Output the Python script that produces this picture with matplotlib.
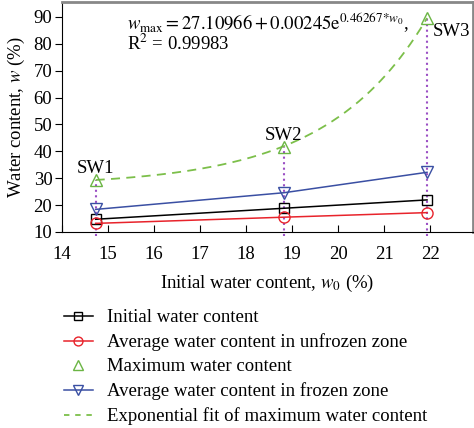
import matplotlib.pyplot as plt
import numpy as np

plt.rcParams['font.family'] = ['Liberation Serif', 'DejaVu Serif']
plt.rcParams['mathtext.fontset'] = 'stix'

w0 = [14.73, 18.82, 21.93]
initial = [14.73, 18.82, 21.93]
unfrozen = [13.2, 15.5, 17.2]
maximum = [29.4, 41.6, 89.5]
frozen = [18.4, 24.6, 32.2]
labels = ['SW1', 'SW2', 'SW3']

# fit parameters written on the chart
a, b, c = 27.10966, 0.00245, 0.46267

fig = plt.figure(figsize=(4.74, 4.28), dpi=100)
ax = fig.add_axes([0.131, 0.458, 0.867, 0.537])

for x, m in zip(w0, maximum):
    ax.plot([x, x], [8.5, m], ':', color='#9b4fc4', lw=1.5, clip_on=False, zorder=1)

xf = np.linspace(w0[0], w0[-1], 200)
ax.plot(xf, a + b * np.exp(c * xf), '--', color='#7cbf4a', lw=1.3, dashes=(5, 3.5), zorder=2)

ax.plot(w0, initial, '-s', color='black', mfc='none', ms=7, lw=1.1, label='Initial water content', zorder=3)
ax.plot(w0, unfrozen, '-o', color='#e8232b', mfc='none', ms=8, lw=1.1,
        label='Average water content in unfrozen zone', zorder=3)
ax.plot(w0, maximum, '^', color='#6bb544', mfc='none', ms=9, label='Maximum water content', zorder=3)
ax.plot(w0, frozen, '-v', color='#3a4fa3', mfc='none', ms=9, lw=1.1,
        label='Average water content in frozen zone', zorder=3)
# legend-only handle with shorter dashes
ax.plot([], [], color='#7cbf4a', lw=1.3, dashes=(3, 3.2), label='Exponential fit of maximum water content')

ax.text(w0[0], 33.5, labels[0], ha='center', va='center', fontsize=13.5)
ax.text(w0[1], 46, labels[1], ha='center', va='center', fontsize=13.5)
ax.text(22.05, 84.5, labels[2], ha='left', va='center', fontsize=13.5)

ax.text(15.42, 88, r'$w_{\mathrm{max}} = 27.10966 + 0.00245\mathrm{e}^{0.46267{*}w_0}$,',
        ha='left', va='center', fontsize=13.5)
ax.text(15.42, 80, r'R$^2$ = 0.99983', ha='left', va='center', fontsize=13.5)

ax.set_xlim(14, 22.93)
ax.set_ylim(10, 95.5)
ax.set_xticks(range(14, 23))
ax.set_yticks(range(10, 91, 10))
ax.tick_params(axis='x', direction='in', length=5, labelsize=13.5, pad=10)
ax.tick_params(axis='y', direction='out', length=5, labelsize=13.5, pad=2)
ax.spines['top'].set_color('#888888')
ax.spines['right'].set_color('#888888')
ax.spines['top'].set_linewidth(2)
ax.spines['right'].set_linewidth(2)

ax.set_xlabel(r'Initial water content, $w_0$ (%)', fontsize=13.5, labelpad=7)
ax.set_ylabel(r'Water content, $w$ (%)', fontsize=13.5, labelpad=5)

fig.legend(*ax.get_legend_handles_labels(), loc='upper left',
           bbox_to_anchor=(0.115, 0.30), frameon=False, fontsize=13.5,
           handlelength=1.55, handletextpad=0.75, labelspacing=0.38, borderpad=0,
           markerscale=0.8)

fig.savefig('out.png', dpi=100)
